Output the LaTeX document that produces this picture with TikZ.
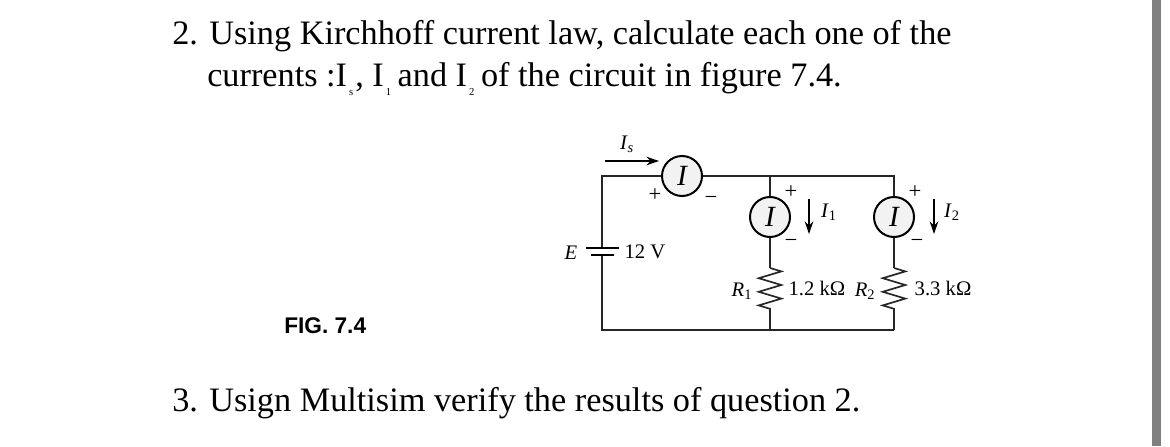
\documentclass[tikz,border=0pt]{standalone}
\usepackage{fontspec}
\setmainfont{Liberation Serif}
\setsansfont{Liberation Sans}
\usetikzlibrary{decorations.pathmorphing}
\usetikzlibrary{arrows.meta}
\newcommand{\lowsub}[1]{\hspace{1.5pt}\raisebox{-0.29em}{\fontsize{8}{8}\selectfont #1}\hspace{-1.5pt}}
\newcommand{\cursub}[2]{\textit{#1}\textsubscript{#2}}
\tikzset{
wire/.style={line width=1.25pt, black!85},
meter/.style={circle, draw, line width=1.5pt, fill=black!5, minimum size=30pt, inner sep=0pt, font=\fontsize{22}{22}\selectfont\itshape},
resistor/.style={wire, decorate, decoration={zigzag, amplitude=8.5pt, segment length=10.2pt}},
flow/.style={line width=0.9pt, -{Stealth[length=9.5pt, width=6.5pt]}},
plate/.style={line width=1.7pt},
bigtext/.style={anchor=base west, inner sep=0pt, font=\fontsize{25.7}{25.7}\selectfont},
lbl/.style={inner sep=0pt, font=\fontsize{15.5}{15.5}\selectfont},
sign/.style={inner sep=0pt, font=\fontsize{17}{17}\selectfont}
}
\begin{document}
\begin{tikzpicture}[x=0.75pt, y=-0.75pt]
\useasboundingbox (0,0) rectangle (1170,446);
\fill[white] (0,0) rectangle (1170,446);
\fill[black!50] (1152,0) rectangle (1161,446);
% question text
\node[bigtext] (lineone) at (172,44) {2. Using Kirchhoff current law, calculate each one of the};
\node[bigtext] (linetwo) at (207,86) {currents :I\lowsub{s}\hspace{3pt}, I\lowsub{1} and I\lowsub{2} of the circuit in figure 7.4.};
\node[bigtext] (linethree) at (172,411) {3. Usign Multisim verify the results of question 2.};
\node[anchor=base west, inner sep=0pt, font=\sffamily\bfseries\fontsize{17}{17}\selectfont] (figlabel) at (284,333) {FIG. 7.4};
% circuit
\coordinate (topleft) at (602,176);
\coordinate (botleft) at (602,330);
\coordinate (topmid) at (770,176);
\coordinate (botmid) at (770,330);
\coordinate (topright) at (894,176);
\coordinate (botright) at (894,330);
\coordinate (plateonea) at (586,248);
\coordinate (plateoneb) at (619,248);
\coordinate (platetwoa) at (591,255);
\coordinate (platetwob) at (614,255);
\coordinate (batone) at (602,248);
\coordinate (battwo) at (602,255);
\coordinate (ronetop) at (770,268);
\coordinate (ronebot) at (770,309);
\coordinate (rtwotop) at (894,268);
\coordinate (rtwobot) at (894,309);
\node[meter] (ms) at (682,176) {I};
\node[meter] (mone) at (770,217) {I};
\node[meter] (mtwo) at (894,217) {I};
\draw[wire] (batone) -- (topleft) -- (ms);
\draw[wire] (ms) -- (topright) -- (mtwo);
\draw[wire] (topmid) -- (mone);
\draw[wire] (mone) -- (ronetop);
\draw[wire] (mtwo) -- (rtwotop);
\draw[resistor] (ronetop) -- (ronebot);
\draw[resistor] (rtwotop) -- (rtwobot);
\draw[wire] (ronebot) -- (botmid);
\draw[wire] (rtwobot) -- (botright);
\draw[wire] (battwo) -- (botleft) -- (botright);
\draw[plate] (plateonea) -- (plateoneb);
\draw[plate] (platetwoa) -- (platetwob);
% arrows
\coordinate (isa) at (605,161);
\coordinate (isb) at (659,161);
\coordinate (ionea) at (809,199);
\coordinate (ioneb) at (809,234);
\coordinate (itwoa) at (934,199);
\coordinate (itwob) at (934,234);
\draw[flow] (isa) -- (isb);
\draw[flow] (ionea) -- (ioneb);
\draw[flow] (itwoa) -- (itwob);
% labels
\node[lbl] (lis) at (627,144) {\cursub{I}{\textit{s}}};
\node[lbl] (lione) at (829,212) {\cursub{I}{1}};
\node[lbl] (litwo) at (952,212) {\cursub{I}{2}};
\node[lbl] (le) at (571,253) {\textit{E}};
\node[lbl] (lv) at (645,252) {12 V};
\node[lbl] (lrone) at (742,291) {\cursub{R}{1}};
\node[lbl] (lvrone) at (817,288) {1.2 kΩ};
\node[lbl] (lrtwo) at (865,291) {\cursub{R}{2}};
\node[lbl] (lvrtwo) at (943,288) {3.3 kΩ};
\node[sign] (pa) at (655,195) {+};
\node[sign] (na) at (711,200) {\textminus};
\node[sign] (pb) at (791,192) {+};
\node[sign] (nb) at (791,243) {\textminus};
\node[sign] (pc) at (915,192) {+};
\node[sign] (nc) at (917,243) {\textminus};
\end{tikzpicture}
\end{document}
